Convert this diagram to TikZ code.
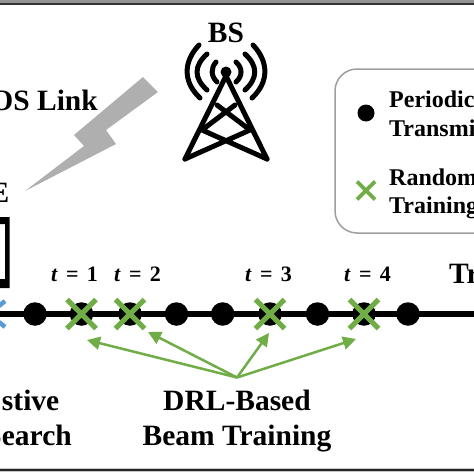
\documentclass[tikz,border=0pt]{standalone}
\usepackage{fontspec}
\setmainfont{Liberation Serif}
\usetikzlibrary{arrows.meta}
\definecolor{grn}{RGB}{112,173,71}
\definecolor{blu}{RGB}{91,155,213}
\definecolor{boltgray}{RGB}{175,175,175}
\tikzset{
  px/.style={x=1pt,y=-1pt},
  lab/.style={font=\bfseries\fontsize{29.5}{34}\selectfont,inner sep=0pt,align=center},
  leg/.style={font=\bfseries\fontsize{24}{28}\selectfont,inner sep=0pt,anchor=base west},
  tlab/.style={font=\bfseries\fontsize{22}{26}\selectfont,inner sep=0pt,anchor=base},
  dotm/.style={circle,fill=black,minimum size=23.5pt,inner sep=0pt},
  xm/.style={draw=grn,line width=5pt},
  garrow/.style={draw=grn,line width=2.5pt,-{Triangle[length=13pt,width=13pt]}},
  tower/.style={line width=5pt,line cap=round,line join=round},
  wave/.style={line width=5pt,line cap=round},
}
\newcommand{\xmark}[2]{\draw[xm] (#1-14.5,#2-14.5) -- (#1+14.5,#2+14.5) (#1-14.5,#2+14.5) -- (#1+14.5,#2-14.5);}
\newcommand{\tval}[1]{\textit{t}\hspace{.38em}=\hspace{.38em}#1}
\begin{document}
\begin{tikzpicture}[px]
\useasboundingbox (0,0) rectangle (474,474);
\fill[white] (0,0) rectangle (474,474);
\fill[gray!85] (0,0) rectangle (474,3);
\fill[black!80] (0,3) rectangle (474,4.5);
\fill[black!85] (0,469) rectangle (474,471);
\fill[gray!45] (0,468) rectangle (474,469);
\fill[gray!45] (0,471) rectangle (474,472);
% bolt
\fill[boltgray] (143,77) -- (158,92) -- (106,130) -- (116,144) -- (25,191) -- (84,146) -- (74,135) -- cycle;
% texts
\node[lab,anchor=base east] (los) at (98,110) {OS Link};
\node[lab,anchor=base] (bs) at (226,42) {BS};
\node[lab,anchor=base east] (ue) at (9.5,202) {E};
\node[lab,anchor=base west] (tr) at (449,283) {Tr};
\node[tlab] (t1) at (74.5,281) {\tval{1}};
\node[tlab] (t2) at (137.5,281) {\tval{2}};
\node[tlab] (t3) at (268.5,281) {\tval{3}};
\node[tlab] (t4) at (367.5,281) {\tval{4}};
\node[lab,anchor=base east] (ex1) at (59.5,410) {stive};
\node[lab,anchor=base east] (ex2) at (72,445) {Search};
\node[lab,anchor=base] (drl1) at (237,410) {DRL-Based};
\node[lab,anchor=base] (drl2) at (237,445) {Beam Training};
% tower
\fill (226,72) circle (5.5);
\draw[tower] (226,76) -- (185,159) (226,76) -- (267,159);
\draw[tower] (217,105) -- (250,130) -- (185,159) (235,105) -- (202,130) -- (267,159);
\draw[wave] (199,45) .. controls (183,62) and (183,82) .. (200,98);
\draw[wave] (207,54) .. controls (193.7,66) and (193.7,78) .. (207,90);
\draw[wave] (216,62) .. controls (210.7,68) and (210.7,76) .. (217,82);
\draw[wave] (253,45) .. controls (269,62) and (269,82) .. (252,98);
\draw[wave] (245,54) .. controls (258,66) and (258,78) .. (245,90);
\draw[wave] (236,62) .. controls (242.7,68) and (242.7,76) .. (236,82);
% UE
\fill[even odd rule] (-5,217) rectangle (9.5,288) (-5,224) rectangle (5,279);
% legend
\draw[draw=gray!75,line width=1.5pt,rounded corners=22pt] (335,69) rectangle (510,233);
\node[dotm,minimum size=17pt] (ld) at (366,113) {};
\draw[xm,line width=3.8pt] (357,181.5) -- (375,199.5) (357,199.5) -- (375,181.5);
\node[leg] (p1) at (389,107) {Periodic};
\node[leg] (p2) at (389,136) {Transmi};
\node[leg] (r1) at (389,185) {Random};
\node[leg] (r2) at (389,213) {Training};
% timeline
\draw[line width=6.5pt] (0,314) -- (474,314);
\draw[blu,line width=4.5pt] (-1,306) -- (5,301) (-1,322) -- (5,327);
\foreach \n/\x in {a/35,b/81.5,c/130,d/176.5,e/222.7,f/270,g/317.5,h/364,i/408}
  \node[dotm] (\n) at (\x,314) {};
\xmark{81.5}{314}
\xmark{130}{314}
\xmark{270}{314}
\xmark{364}{314}
% arrows
\coordinate (src) at (237,377.5);
\draw[garrow] (src) -- (87,340);
\draw[garrow] (src) -- (148,332);
\draw[garrow] (src) -- (269,333);
\draw[garrow] (src) -- (356,339);
\end{tikzpicture}
\end{document}
